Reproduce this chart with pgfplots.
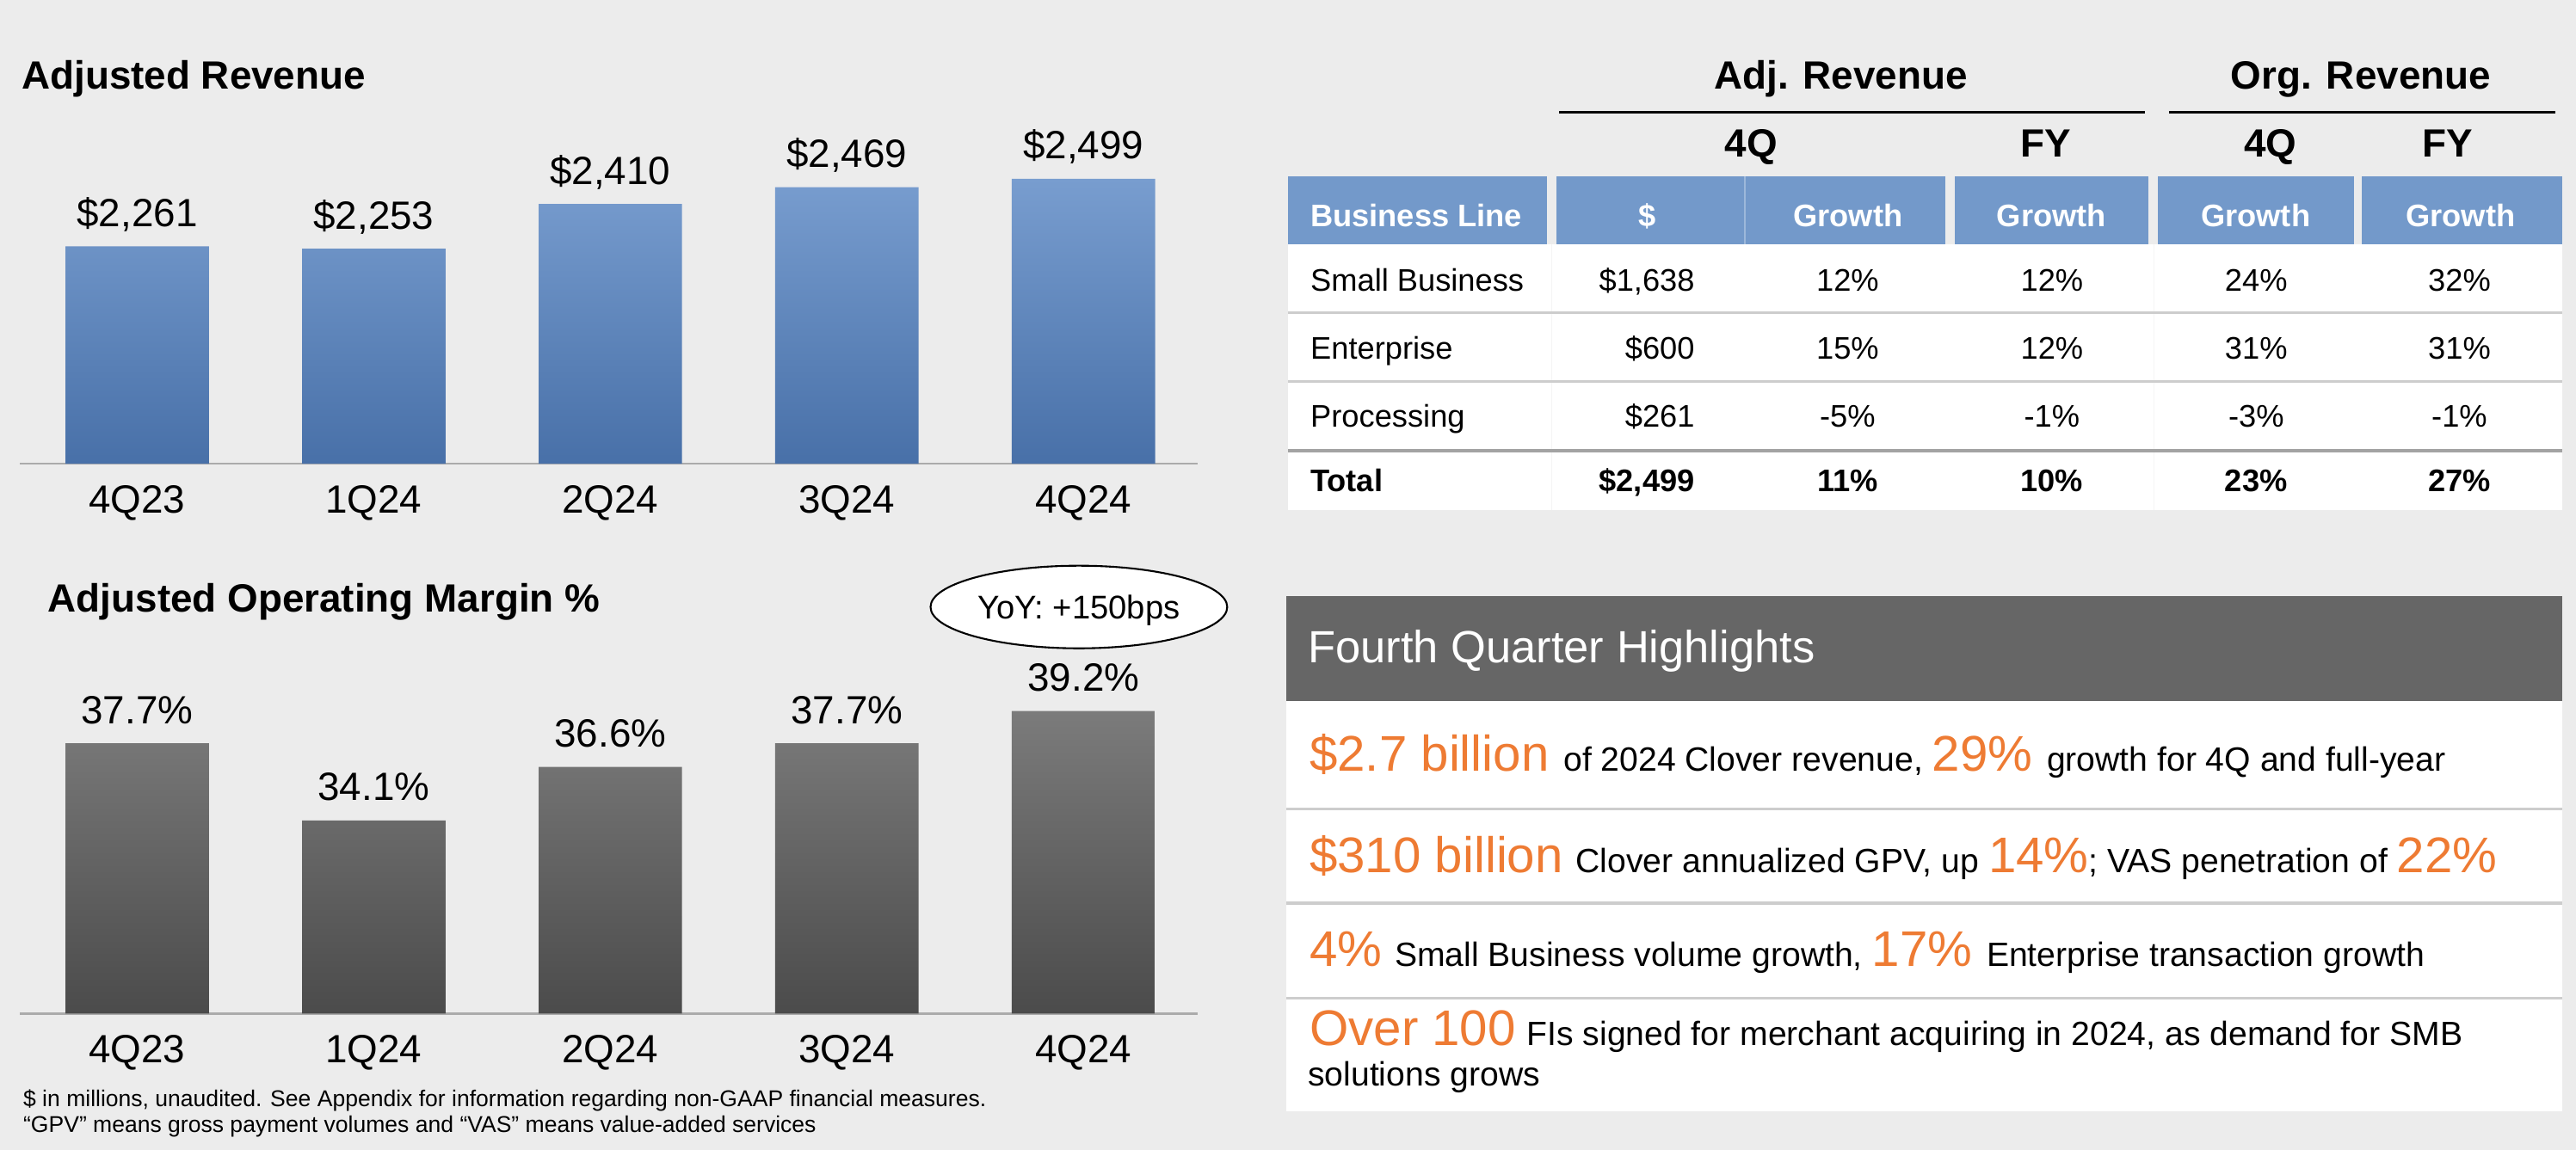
\documentclass[border=0pt]{standalone}
\usepackage{fontspec}
\setmainfont{Liberation Sans}
\usepackage{pgfplots}
\pgfplotsset{compat=1.18}
\definecolor{bg}{HTML}{ECECEC}
\definecolor{blueT}{HTML}{789DCF}
\definecolor{blueB}{HTML}{4870A8}
\definecolor{hdrblue}{HTML}{7399CA}
\definecolor{grayT}{HTML}{7B7B7B}
\definecolor{grayB}{HTML}{4B4B4B}
\definecolor{darkhdr}{HTML}{666666}
\definecolor{org}{HTML}{EE7B33}
\definecolor{sepgray}{HTML}{CDCDCD}
\definecolor{sepdark}{HTML}{A3A3A3}
\newcommand{\fs}[1]{\fontsize{#1}{#1}\selectfont}
\newcommand{\trow}[7]{%
  \node[anchor=base west] at (797.5,#1) {#2};
  \node[anchor=base east] at (1031.7,#1) {#3};
  \node[anchor=base] at (1124.6,#1) {#4};
  \node[anchor=base] at (1249,#1) {#5};
  \node[anchor=base] at (1373.3,#1) {#6};
  \node[anchor=base] at (1497,#1) {#7};}
\pgfplotsset{
  slidebar/.style={
    scale only axis, width=717pt,
    xmin=-0.4965, xmax=4.4826,
    axis y line=none, axis x line*=bottom,
    x axis line style={draw=black!33, line width=1.3pt},
    xtick={0,1,2,3,4}, xticklabels={4Q23,1Q24,2Q24,3Q24,4Q24},
    major tick length=0pt,
    xticklabel style={font=\fs{24}, anchor=base, yshift=-30pt, inner sep=0pt},
    ybar, bar width=87.3pt,
    nodes near coords style={font=\fs{24}, anchor=base, yshift=12pt, inner sep=0pt},
  }
}
\begin{document}
\begin{tikzpicture}[x=1pt,y=1pt]
\fill[bg] (0,0) rectangle (1568,700);

% ---------- Left titles ----------
\node[anchor=base west, inner sep=0, font=\fs{24}\bfseries] at (13,645.7) {Adjusted Revenue};
\node[anchor=base west, inner sep=0, font=\fs{24}\bfseries] at (29,327.3) {Adjusted Operating Margin \%};

% ---------- Adjusted revenue ----------
\begin{axis}[slidebar, at={(12pt,417.6pt)}, anchor=south west,
  height=217pt, ymin=1496, ymax=2750,
  nodes near coords={\$\pgfmathprintnumber{\pgfplotspointmeta}},
  /pgf/number format/.cd, fixed, precision=0, 1000 sep={,}, assume math mode=true]
\addplot[draw=none, top color=blueT, bottom color=blueB] coordinates {
  (0,2261) (1,2253) (2,2410) (3,2469) (4,2499)};
\end{axis}

% ---------- Operating margin ----------
\begin{axis}[slidebar, at={(12pt,82.8pt)}, anchor=south west,
  height=233.95pt, ymin=25.1, ymax=43,
  nodes near coords={\pgfmathprintnumber{\pgfplotspointmeta}\%},
  /pgf/number format/.cd, fixed, fixed zerofill, precision=1, assume math mode=true]
\addplot[draw=none, top color=grayT, bottom color=grayB] coordinates {
  (0,37.7) (1,34.1) (2,36.6) (3,37.7) (4,39.2)};
\end{axis}

% YoY ellipse
\draw[line width=1.1pt, fill=white] (656.7,330.4) ellipse [x radius=90.3, y radius=25.15];
\node[anchor=base, inner sep=0, font=\fs{20}] at (656.6,323.3) {YoY: +150bps};

% footnote
\node[anchor=base west, inner sep=0, font=\fs{13.9}] at (14,26.2) {\$ in millions, unaudited. See Appendix for information regarding non-GAAP financial measures.};
\node[anchor=base west, inner sep=0, font=\fs{13.9}] at (14,10.5) {“GPV” means gross payment volumes and “VAS” means value-added services};

% ---------- Table ----------
\begin{scope}[every node/.style={inner sep=0}]
\node[anchor=base, font=\fs{24}\bfseries] at (1120.5,645.7) {Adj. Revenue};
\node[anchor=base, font=\fs{24}\bfseries] at (1437,645.7) {Org. Revenue};
\draw[line width=1.6pt] (949.2,631.6) -- (1305.7,631.6);
\draw[line width=1.6pt] (1320.2,631.6) -- (1555.5,631.6);
\node[anchor=base, font=\fs{24}\bfseries] at (1066,604.3) {4Q};
\node[anchor=base, font=\fs{24}\bfseries] at (1245,604.3) {FY};
\node[anchor=base, font=\fs{24}\bfseries] at (1382,604.3) {4Q};
\node[anchor=base, font=\fs{24}\bfseries] at (1490,604.3) {FY};
% header cells
\fill[hdrblue] (784,551.2) rectangle (941.4,592.7);
\fill[hdrblue] (947.6,551.2) rectangle (1184,592.7);
\fill[hdrblue] (1189.6,551.2) rectangle (1307.8,592.7);
\fill[hdrblue] (1313.5,551.2) rectangle (1432.7,592.7);
\fill[hdrblue] (1437.8,551.2) rectangle (1559.6,592.7);
\draw[line width=0.8pt, color=hdrblue!70!white] (1062.2,551.2) -- (1062.2,592.7);
\begin{scope}[every node/.append style={text=white, font=\fs{19}\bfseries}]
\node[anchor=base west] at (797.5,562.2) {Business Line};
\node[anchor=base] at (1002.8,562.2) {\$};
\node[anchor=base] at (1124.9,562.2) {Growth};
\node[anchor=base] at (1248.7,562.2) {Growth};
\node[anchor=base] at (1373,562.2) {Growth};
\node[anchor=base] at (1497.7,562.2) {Growth};
\end{scope}
% body
\fill[white] (784,389.2) rectangle (1559.6,551.2);
\draw[line width=0.5pt, color=black!4] (944.5,389.2) -- (944.5,551.2);
\draw[line width=0.5pt, color=black!4] (1311,389.2) -- (1311,551.2);
\draw[line width=1.6pt, color=sepgray] (784,509.4) -- (1559.6,509.4);
\draw[line width=1.6pt, color=sepgray] (784,467.5) -- (1559.6,467.5);
\draw[line width=2pt, color=sepdark] (784,425.5) -- (1559.6,425.5);
\begin{scope}[every node/.append style={font=\fs{19}}]
\trow{522.8}{Small Business}{\$1,638}{12\%}{12\%}{24\%}{32\%}
\trow{481.4}{Enterprise}{\$600}{15\%}{12\%}{31\%}{31\%}
\trow{440}{Processing}{\$261}{-5\%}{-1\%}{-3\%}{-1\%}
\end{scope}
\begin{scope}[every node/.append style={font=\fs{19}\bfseries}]
\trow{400.6}{Total}{\$2,499}{11\%}{10\%}{23\%}{27\%}
\end{scope}

% ---------- Highlights ----------
\fill[darkhdr] (783,273.4) rectangle (1559.6,336.8);
\node[anchor=base west, text=white, font=\fs{27.5}] at (795.9,296.6) {Fourth Quarter Highlights};
\fill[white] (783,23.3) rectangle (1559.6,273.4);
\draw[line width=1.6pt, color=sepgray] (783,207.6) -- (1559.6,207.6);
\draw[line width=1.6pt, color=sepgray] (783,150.1) -- (1559.6,150.1);
\draw[line width=1.6pt, color=sepgray] (783,92.2) -- (1559.6,92.2);
\begin{scope}[every node/.append style={font=\fs{20.5}, anchor=base west}]
\node at (797,230.3) {{\fs{30.5}\color{org}\$2.7 billion}\hspace{3pt} of 2024 Clover revenue, {\fs{30.5}\color{org}29\%}\hspace{3pt} growth for 4Q and full-year};
\node at (797,168.8) {{\fs{30.5}\color{org}\$310 billion}\hspace{2pt} Clover annualized GPV, up {\fs{30.5}\color{org}14\%}; VAS penetration of {\fs{30.5}\color{org}22\%}};
\node at (797,111.4) {{\fs{30.5}\color{org}4\%}\hspace{2pt} Small Business volume growth, {\fs{30.5}\color{org}17\%}\hspace{3pt} Enterprise transaction growth};
\node at (797,63.3) {{\fs{30.5}\color{org}Over 100}\hspace{1pt} FIs signed for merchant acquiring in 2024, as demand for SMB};
\node at (796,38.9) {solutions grows};
\end{scope}
\end{scope}

\pgfresetboundingbox
\useasboundingbox (0,0) rectangle (1568,700);
\end{tikzpicture}
\end{document}
